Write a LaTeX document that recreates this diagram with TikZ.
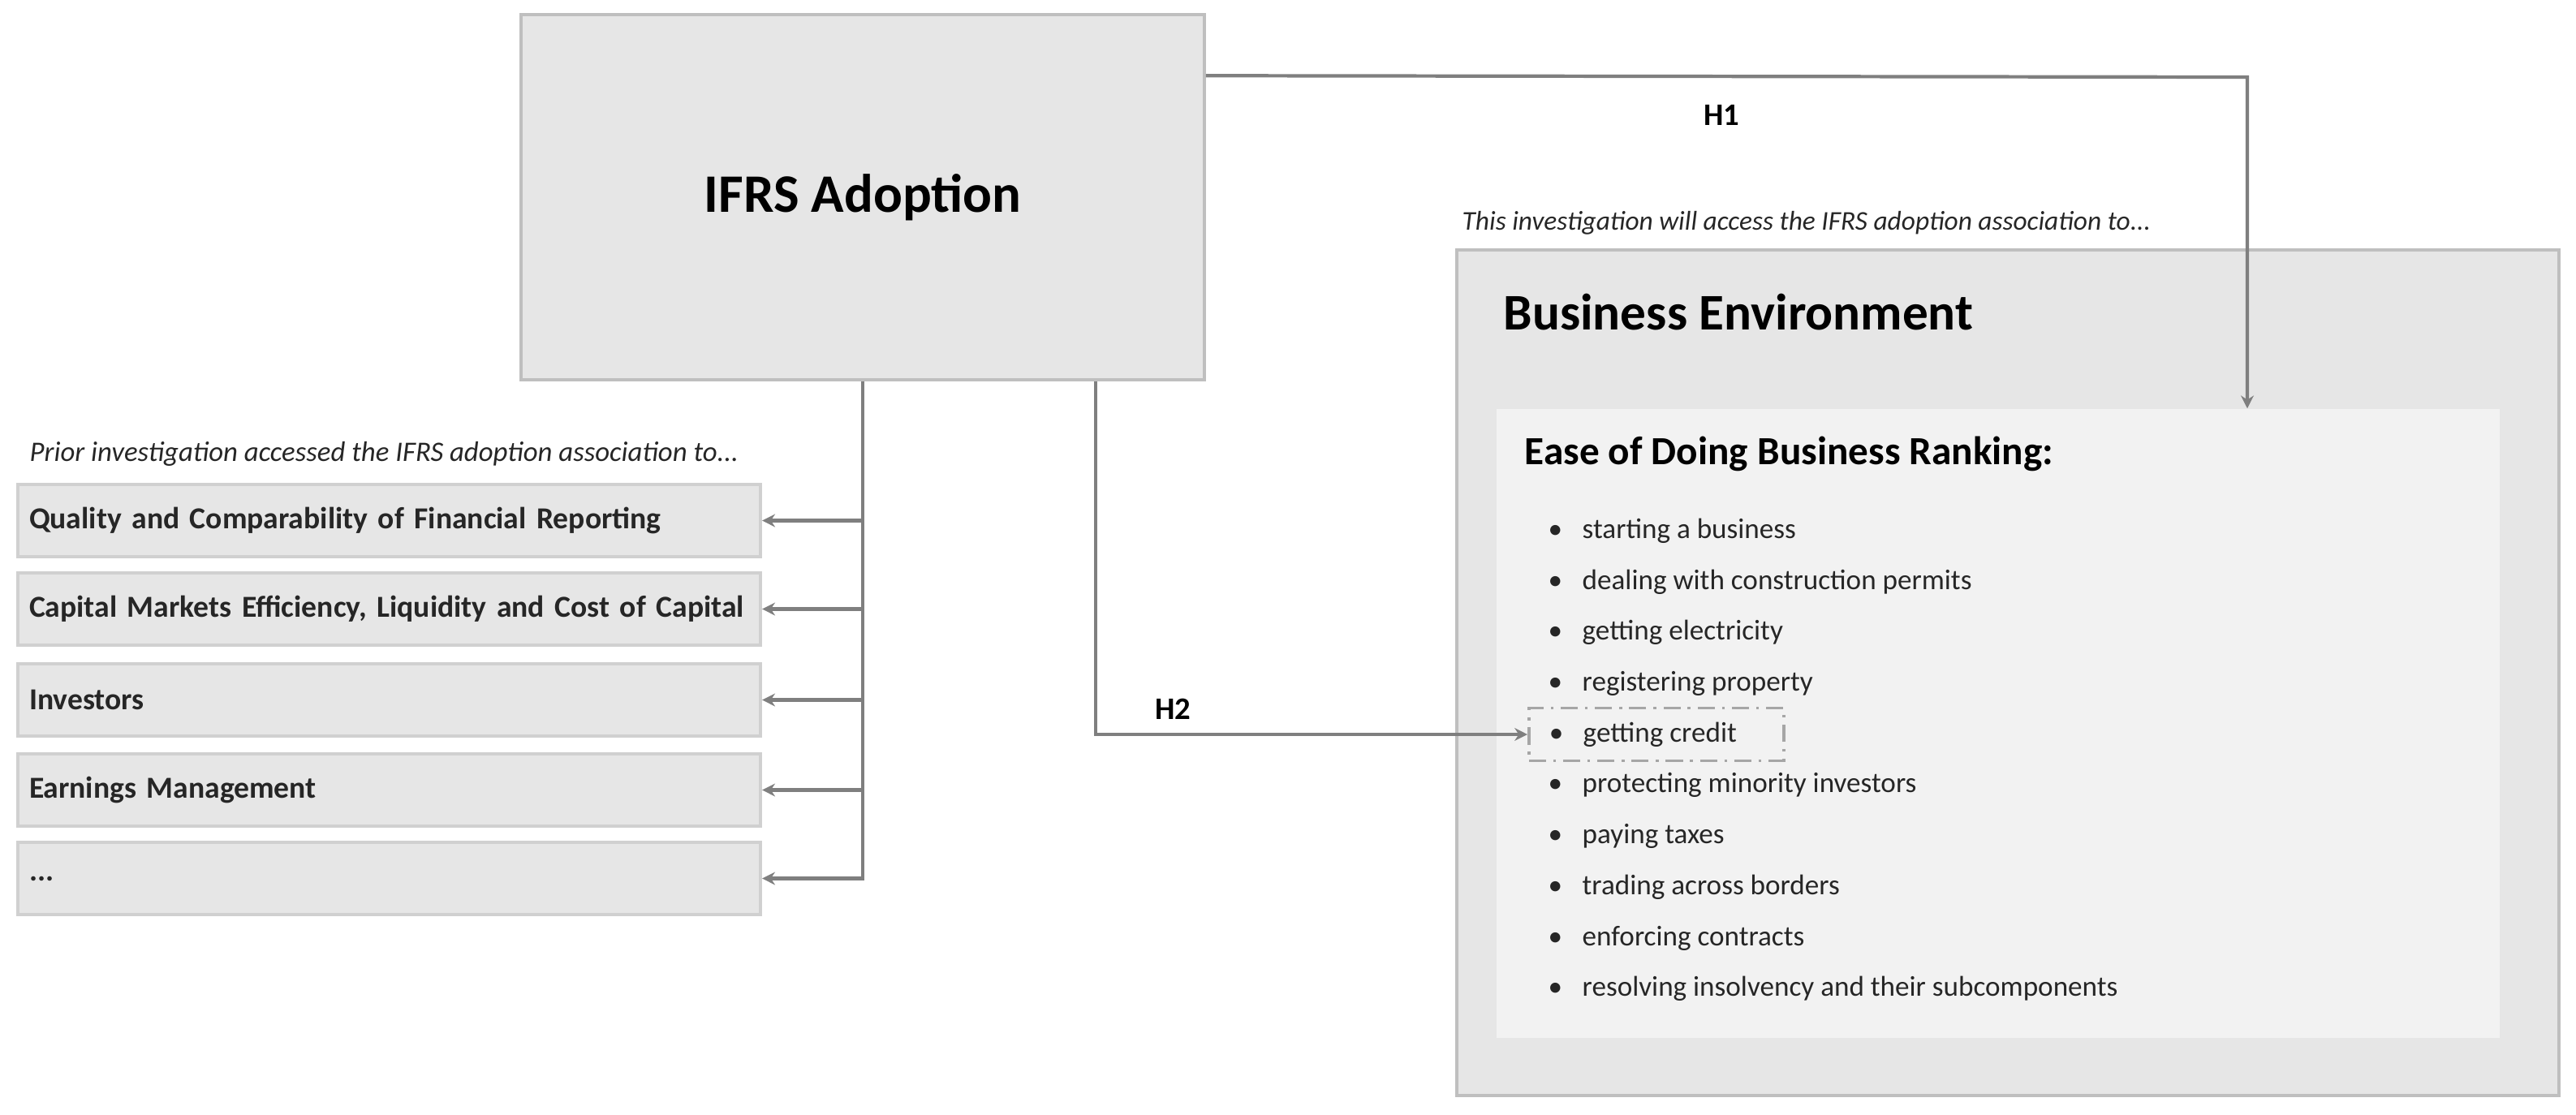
\documentclass[tikz,border=0pt]{standalone}
\usepackage{fontspec}
\setmainfont{Carlito}
\usetikzlibrary{arrows.meta, positioning}
\definecolor{boxgray}{HTML}{E6E6E6}
\definecolor{panelgray}{HTML}{F2F2F2}
\definecolor{rimgray}{HTML}{BFBFBF}
\definecolor{edgegray}{HTML}{D0D0D0}
\definecolor{linegray}{HTML}{7F7F7F}
\definecolor{dashgray}{HTML}{A6A6A6}
\definecolor{inkgray}{HTML}{262626}

\begin{document}
\begin{tikzpicture}[
  every node/.style={font=\fontsize{10}{12}\selectfont, text=inkgray},
  bigbox/.style={rectangle, draw=rimgray, fill=boxgray, line width=1pt},
  lbox/.style={rectangle, draw=edgegray, fill=boxgray, line width=1.2pt, minimum height=0.89cm, text width=8.87cm, inner xsep=0.14cm, align=left, font=\bfseries\fontsize{10.7}{13}\selectfont},
  note/.style={anchor=west, inner sep=0pt, font=\itshape\fontsize{9.5}{11}\selectfont},
  item/.style={anchor=west, inner sep=0pt, font=\fontsize{10}{12}\selectfont},
  hlabel/.style={inner sep=0pt, font=\bfseries\fontsize{11}{13}\selectfont, text=black},
  conn/.style={-{Stealth[length=4.5pt, width=4.5pt]}, draw=linegray, line width=1.2pt},
]
\useasboundingbox (0,0) rectangle (31.74,-13.73);

% IFRS box
\node[bigbox, minimum width=8.42cm, minimum height=4.50cm, font=\bfseries\fontsize{19}{23}\selectfont, text=black] (ifrs) at (10.63,-2.43) {IFRS Adoption};

% Prior research
\node[note, font=\itshape\fontsize{9.9}{11}\selectfont] (prior) at (0.36,-5.59) {Prior investigation accessed the IFRS adoption association to...};
\node[lbox] (l1) at (4.795,-6.415) {Quality and Comparability of Financial Reporting};
\node[lbox] (l2) at (4.795,-7.505) {Capital Markets Efficiency, Liquidity and Cost of Capital};
\node[lbox] (l3) at (4.795,-8.625) {Investors};
\node[lbox] (l4) at (4.795,-9.735) {Earnings Management};
\node[lbox] (l5) at (4.795,-10.825) {...};

% Business environment
\node[note] (this) at (18.01,-2.75) {This investigation will access the IFRS adoption association to...};
\node[bigbox, minimum width=13.58cm, minimum height=10.42cm] (env) at (24.74,-8.29) {};
\node[anchor=west, inner sep=0pt, font=\bfseries\fontsize{18}{22}\selectfont, text=black] (envtitle) at (18.52,-3.85) {Business Environment};
\node[rectangle, fill=panelgray, minimum width=12.36cm, minimum height=7.75cm] (rank) at (24.62,-8.915) {};
\node[anchor=west, inner sep=0pt, font=\bfseries\fontsize{14}{17}\selectfont, text=black] (ranktitle) at (18.78,-5.59) {Ease of Doing Business Ranking:};

% Ranking items
\node[item] (b1) at (19.07,-6.54) {\makebox[0.42cm][l]{\textbullet}starting a business};
\node[item] (b2) at (19.07,-7.17) {\makebox[0.42cm][l]{\textbullet}dealing with construction permits};
\node[item] (b3) at (19.07,-7.79) {\makebox[0.42cm][l]{\textbullet}getting electricity};
\node[item] (b4) at (19.07,-8.42) {\makebox[0.42cm][l]{\textbullet}registering property};
\node[item, draw=dashgray, line width=1pt, dash pattern=on 6pt off 2.5pt on 1pt off 2.5pt, inner xsep=0.25cm, minimum height=0.65cm] (credit) at (18.82,-9.05) {\makebox[2.64cm][l]{\makebox[0.42cm][l]{\textbullet}getting credit}};
\node[item] (b6) at (19.07,-9.67) {\makebox[0.42cm][l]{\textbullet}protecting minority investors};
\node[item] (b7) at (19.07,-10.30) {\makebox[0.42cm][l]{\textbullet}paying taxes};
\node[item] (b8) at (19.07,-10.93) {\makebox[0.42cm][l]{\textbullet}trading across borders};
\node[item] (b9) at (19.07,-11.56) {\makebox[0.42cm][l]{\textbullet}enforcing contracts};
\node[item] (b10) at (19.07,-12.18) {\makebox[0.42cm][l]{\textbullet}resolving insolvency and their subcomponents};

% Hypotheses
\coordinate (h1turn) at (27.69,-0.95);
\draw[conn] ([yshift=-0.77cm]ifrs.north east) -- (h1turn) -- (h1turn |- rank.north);
\node[hlabel] (h1) at (21.21,-1.42) {H1};
\draw[conn] ([xshift=2.87cm]ifrs.south) |- (credit.west);
\node[hlabel] (h2) at (14.45,-8.74) {H2};

% Prior links
\draw[conn] (ifrs.south) |- (l5.east);
\draw[conn] (ifrs.south |- l1.east) -- (l1.east);
\draw[conn] (ifrs.south |- l2.east) -- (l2.east);
\draw[conn] (ifrs.south |- l3.east) -- (l3.east);
\draw[conn] (ifrs.south |- l4.east) -- (l4.east);

\end{tikzpicture}
\end{document}
